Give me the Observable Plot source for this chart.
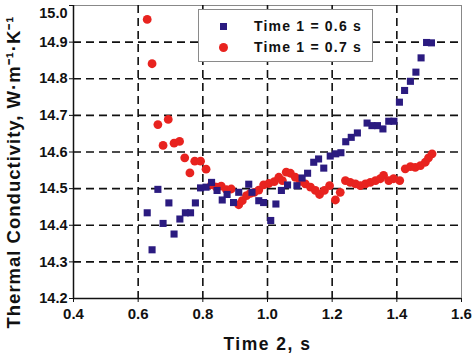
<!DOCTYPE html>
<html>
<head>
<meta charset="utf-8">
<script src="https://cdn.jsdelivr.net/npm/d3@7"></script>
<script src="https://cdn.jsdelivr.net/npm/@observablehq/plot@0.6"></script>
<style>
  html, body { margin: 0; padding: 0; background: #fff; }
  #wrap { position: relative; width: 474px; height: 353px; font-family: "Liberation Sans", Arial, sans-serif; }
  #legend { position: absolute; left: 198px; top: 9px; width: 175px; height: 53px; border: 1px solid #8a8a8a; background: #fff; box-sizing: border-box; }
  .row { position: absolute; left: 0; height: 20px; display: flex; align-items: center; font-weight: bold; font-size: 14px; letter-spacing: 1.2px; color: #111; }
  .sq { position: absolute; left: 21px; width: 7px; height: 7px; background: #2b1b80; }
  .ci { position: absolute; left: 20px; width: 9px; height: 9px; border-radius: 50%; background: #e8231f; }
  .lbl { position: absolute; left: 55px; white-space: nowrap; }
</style>
</head>
<body>
<div id="wrap"></div>
<script>
// Series: Time 1 = 0.6 s (blue squares)
const blueX = [0.628,0.643,0.661,0.677,0.695,0.711,0.729,0.746,0.762,0.777,0.793,0.810,0.827,0.844,0.860,0.875,0.895,0.911,0.942,0.952,0.973,0.988,1.010,1.026,1.043,1.062,1.091,1.107,1.124,1.143,1.158,1.174,1.194,1.211,1.227,1.242,1.259,1.278,1.308,1.323,1.340,1.357,1.375,1.391,1.408,1.424,1.442,1.459,1.475,1.492,1.507];
const blueY = [14.434,14.333,14.498,14.405,14.461,14.376,14.417,14.434,14.434,14.461,14.502,14.504,14.517,14.495,14.469,14.484,14.462,14.490,14.512,14.490,14.467,14.462,14.413,14.458,14.495,14.510,14.508,14.529,14.542,14.572,14.581,14.556,14.589,14.595,14.598,14.628,14.640,14.652,14.679,14.672,14.672,14.663,14.684,14.684,14.736,14.768,14.793,14.818,14.857,14.899,14.898];
// Series: Time 1 = 0.7 s (red circles)
const redX = [0.628,0.643,0.661,0.677,0.693,0.711,0.728,0.744,0.760,0.775,0.793,0.810,0.827,0.842,0.857,0.873,0.888,0.911,0.922,0.935,0.947,0.959,0.973,0.988,1.004,1.021,1.035,1.046,1.058,1.071,1.086,1.102,1.117,1.133,1.148,1.161,1.176,1.192,1.210,1.225,1.241,1.256,1.272,1.287,1.303,1.318,1.334,1.349,1.359,1.375,1.390,1.409,1.426,1.442,1.457,1.473,1.488,1.498,1.509];
const redY = [14.962,14.841,14.675,14.618,14.689,14.624,14.629,14.584,14.543,14.575,14.575,14.553,14.511,14.504,14.507,14.497,14.499,14.456,14.467,14.481,14.487,14.490,14.496,14.510,14.514,14.519,14.531,14.522,14.545,14.542,14.531,14.520,14.513,14.504,14.495,14.484,14.495,14.508,14.469,14.490,14.522,14.517,14.513,14.508,14.513,14.517,14.522,14.527,14.536,14.522,14.527,14.522,14.554,14.560,14.558,14.563,14.572,14.584,14.595];

const xTicks = [0.4, 0.6, 0.8, 1.0, 1.2, 1.4, 1.6];
const yTicks = [14.2, 14.3, 14.4, 14.5, 14.6, 14.7, 14.8, 14.9, 15.0];
const xGrid = [0.6, 0.8, 1.0, 1.2, 1.4];
const yGrid = [14.3, 14.4, 14.5, 14.6, 14.7, 14.8, 14.9];
const seriesNames = ["Time 1 = 0.6 s", "Time 1 = 0.7 s"];
const xLabel = "Time 2, s";
const yLabel = "Thermal Conductivity, W\u00B7m\u207B\u00B9\u00B7K\u207B\u00B9";

const blue = blueX.map((x, i) => ({x, y: blueY[i]}));
const red = redX.map((x, i) => ({x, y: redY[i]}));

const chart = Plot.plot({
  width: 474,
  height: 353,
  marginLeft: 73,
  marginRight: 13,
  marginTop: 5,
  marginBottom: 55,
  style: { fontFamily: "'Liberation Sans', Arial, sans-serif", background: "#fff", color: "#111", overflow: "visible" },
  x: { domain: [0.4, 1.6], ticks: xTicks, tickFormat: d3.format(".1f") },
  y: { domain: [14.2, 15.0], ticks: yTicks, tickFormat: d3.format(".1f") },
  marks: [
    Plot.frame({ stroke: "#888", strokeWidth: 1 }),
    Plot.gridX(xGrid, { stroke: "#111", strokeOpacity: 1, strokeWidth: 1.6, strokeDasharray: "8,5" }),
    Plot.gridY(yGrid, { stroke: "#111", strokeOpacity: 1, strokeWidth: 1.6, strokeDasharray: "8,5" }),
    Plot.ruleX([0.4], { stroke: "#111", strokeWidth: 1.5 }),
    Plot.ruleY([14.2], { stroke: "#111", strokeWidth: 1.5 }),
    Plot.axisY(yTicks, { tickSize: 4, tickPadding: 2, fontSize: 14.5, fontWeight: "bold", letterSpacing: 1,
      label: yLabel, labelAnchor: "center", labelArrow: "none", labelOffset: 67 }),
    Plot.axisX(xTicks, { tickSize: 4, tickPadding: 6, fontSize: 15, fontWeight: "bold", letterSpacing: 1,
      label: xLabel, labelAnchor: "center", labelArrow: "none", labelOffset: 51 }),
    Plot.dot(red, { x: "x", y: "y", r: 4.4, fill: "#e8231f", stroke: "none" }),
    Plot.dot(blue, { x: "x", y: "y", r: 4, symbol: "square", fill: "#2b1b80", stroke: "none" })
  ]
});

chart.querySelectorAll("[aria-label='y-axis label'] text").forEach(t => {
  t.setAttribute("font-weight", "bold");
  t.setAttribute("font-size", "18.5");
  t.setAttribute("letter-spacing", "1");
  t.setAttribute("dx", "-20");
});
chart.querySelectorAll("[aria-label='x-axis label'] text").forEach(t => {
  t.setAttribute("font-weight", "bold");
  t.setAttribute("font-size", "17.5");
  t.setAttribute("letter-spacing", "1.5");
});
// keep the topmost tick label (15.0) fully inside the picture
chart.querySelectorAll("[aria-label='y-axis tick label'] text").forEach(t => {
  if (t.textContent === "15.0") t.setAttribute("dy", "0.55em");
});

const wrap = document.getElementById("wrap");
wrap.appendChild(chart);

const legend = document.createElement("div");
legend.id = "legend";
legend.innerHTML = `
  <div class="row" style="top:6px;width:100%"><span class="sq"></span><span class="lbl">${seriesNames[0]}</span></div>
  <div class="row" style="top:27px;width:100%"><span class="ci"></span><span class="lbl">${seriesNames[1]}</span></div>`;
wrap.appendChild(legend);
</script>
</body>
</html>
